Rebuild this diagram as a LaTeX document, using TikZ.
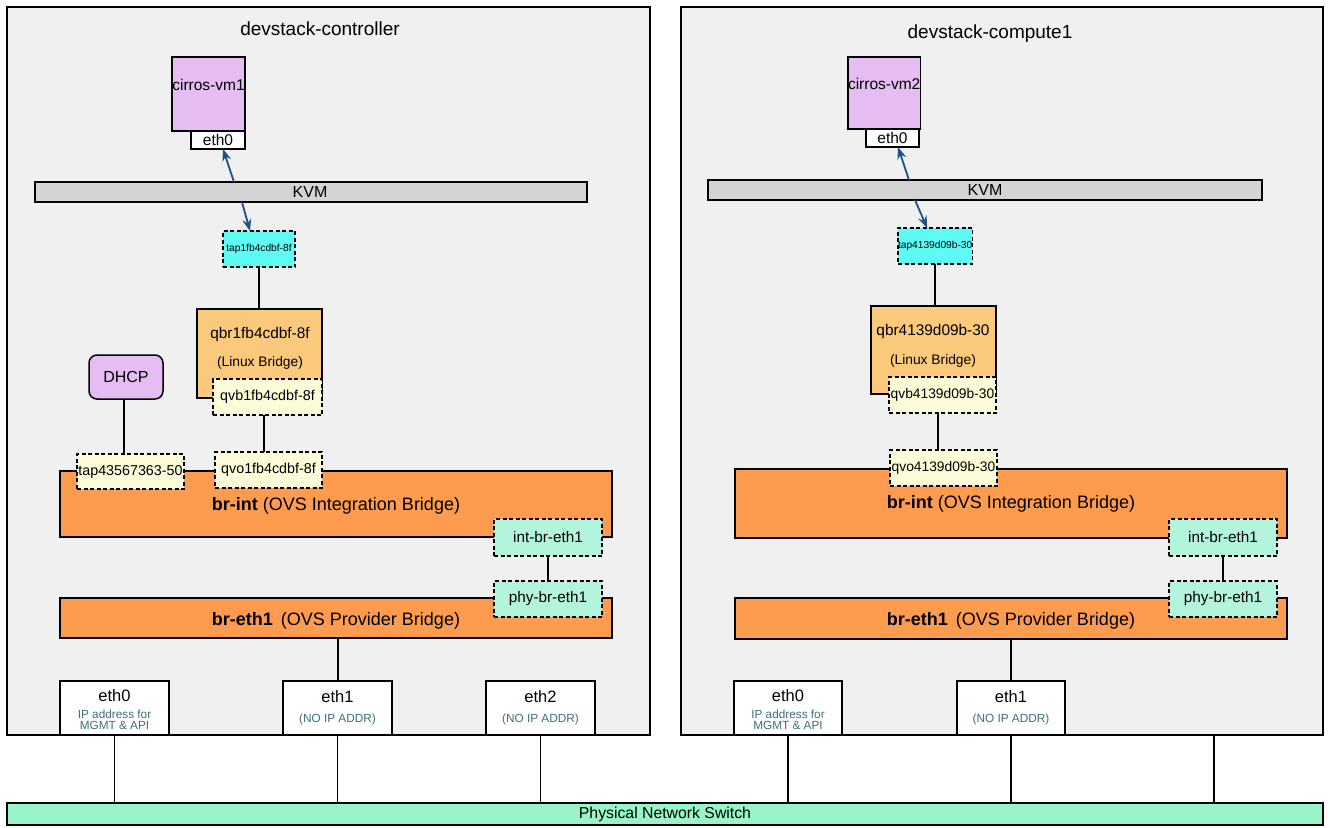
\documentclass[tikz,border=0pt]{standalone}
\usepackage{fontspec}
\setmainfont{Liberation Sans}
\usetikzlibrary{arrows.meta,calc}
\definecolor{hostfill}{HTML}{F0F0F1}
\definecolor{vmfill}{HTML}{E5BDF3}
\definecolor{kvmfill}{HTML}{D4D4D4}
\definecolor{tapfill}{HTML}{5EFAF4}
\definecolor{qbrfill}{HTML}{FBC97B}
\definecolor{vethfill}{HTML}{FCFCD8}
\definecolor{ovsfill}{HTML}{FD9B4E}
\definecolor{patchfill}{HTML}{B2F5DC}
\definecolor{swfill}{HTML}{98F5C9}
\definecolor{arrcol}{HTML}{1F5280}
\definecolor{subcol}{HTML}{3E6E80}
\newcommand{\fs}[1]{\fontsize{#1}{#1}\selectfont}
\tikzset{
  box/.style={draw=black, line width=1.5pt, inner sep=0pt, outer sep=0pt, anchor=north west, align=center},
  hostbox/.style={box, fill=hostfill},
  vmbox/.style={box, fill=vmfill, font=\fs{15.5}},
  ethvm/.style={box, fill=white, font=\fs{15.5}},
  kvmbar/.style={box, fill=kvmfill},
  tapbox/.style={box, fill=tapfill, dash pattern=on 4pt off 2.5pt, font=\fs{10.2}},
  qbrbox/.style={box, fill=qbrfill},
  vethbox/.style={box, fill=vethfill, dash pattern=on 4pt off 2.5pt, font=\fs{14.3}},
  vethboxr/.style={vethbox, font=\fs{13.8}},
  ovsbar/.style={box, fill=ovsfill},
  patchbox/.style={box, fill=patchfill, dash pattern=on 4pt off 2.5pt, font=\fs{15.3}},
  nicbox/.style={box, fill=white},
  dhcpbox/.style={box, fill=vmfill, rounded corners=8pt, font=\fs{16}},
  swbar/.style={box, fill=swfill, font=\fs{15.8}},
  lbl/.style={inner sep=0pt, align=center},
  wire/.style={line width=2pt, black},
  thin/.style={line width=1.5pt, black},
  arr/.style={line width=1.8pt, arrcol, -{Stealth[length=12pt,width=9pt]}},
}
\begin{document}
\begin{tikzpicture}[x=1pt,y=-1pt]
\useasboundingbox (0,0) rectangle (1330,827);
\fill[white] (0,0) rectangle (1330,827);

% hosts
\node[hostbox, minimum width=643, minimum height=728] (host1) at (7,7) {};
\node[hostbox, minimum width=642, minimum height=728] (host2) at (681,7) {};
\node[lbl, font=\fs{19}] (h1t) at (320,29) {devstack-controller};
\node[lbl, font=\fs{19}] (h2t) at (990,34) {devstack-compute1};

% ---------- left host ----------
\node[vmbox, minimum width=73, minimum height=74] (vm1) at (172,57) {cirros-vm1\\[2pt]};
\node[ethvm, minimum width=54, minimum height=18] (vm1eth) at (191,131) {eth0};
\node[kvmbar, minimum width=552, minimum height=20] (kvm1) at (35,182) {};
\node[lbl, font=\fs{16}] (kvm1t) at (310,192) {KVM};
\node[tapbox, minimum width=72, minimum height=36] (tap1) at (223,231) {tap1fb4cdbf-8f};
\node[qbrbox, minimum width=125, minimum height=89] (qbr1) at (197,309) {};
\node[lbl, font=\fs{15.4}] (qbr1t) at (260,335) {qbr1fb4cdbf-8f};
\node[lbl, font=\fs{13.8}] (qbr1s) at (260,363) {(Linux Bridge)};
\node[vethbox, minimum width=109, minimum height=36] (qvb1) at (213,379) {qvb1fb4cdbf-8f};
\node[dhcpbox, minimum width=74, minimum height=44] (dhcp) at (89,355) {DHCP};
\node[ovsbar, minimum width=552, minimum height=66] (brint1) at (60,471) {};
\node[lbl, font=\fs{18}] (brint1t) at (336,506) {\textbf{br-int} (OVS Integration Bridge)};
\node[vethbox, minimum width=107, minimum height=35] (tapd) at (77,454) {tap43567363-50};
\node[vethbox, minimum width=107, minimum height=36] (qvo1) at (215,452) {qvo1fb4cdbf-8f};
\node[ovsbar, minimum width=552, minimum height=40] (breth1) at (60,598) {};
\node[lbl, font=\fs{18}] (breth1t) at (336,621) {\textbf{br-eth1}\, (OVS Provider Bridge)};
\node[patchbox, minimum width=108, minimum height=37] (int1) at (494,519) {int-br-eth1};
\node[patchbox, minimum width=108, minimum height=36] (phy1) at (494,581) {phy-br-eth1};
\node[nicbox, minimum width=109, minimum height=54] (e10) at (60,681) {};
\node[nicbox, minimum width=109, minimum height=54] (e11) at (283,681) {};
\node[nicbox, minimum width=109, minimum height=54] (e12) at (486,681) {};
\node[lbl, font=\fs{16.5}] (e10a) at (114.5,696) {eth0};
\node[lbl, font=\fs{11.8}, text=subcol] (e10b) at (114.5,720) {IP address for\\[-1pt]MGMT \& API};
\node[lbl, font=\fs{16.5}] (e11a) at (337.5,697) {eth1};
\node[lbl, font=\fs{11.8}, text=subcol] (e11b) at (337.5,719) {(NO IP ADDR)};
\node[lbl, font=\fs{16.5}] (e12a) at (540.5,697) {eth2};
\node[lbl, font=\fs{11.8}, text=subcol] (e12b) at (540.5,719) {(NO IP ADDR)};

% ---------- right host ----------
\node[vmbox, minimum width=71, minimum height=72] (vm2) at (848,57) {cirros-vm2\\[2pt]};
\node[ethvm, minimum width=53, minimum height=18] (vm2eth) at (866,129) {eth0};
\node[kvmbar, minimum width=554, minimum height=20] (kvm2) at (708,180) {};
\node[lbl, font=\fs{16}] (kvm2t) at (985,190) {KVM};
\node[tapbox, minimum width=72, minimum height=36] (tap2) at (898,228) {tap4139d09b-30};
\node[qbrbox, minimum width=125, minimum height=88] (qbr2) at (871,306) {};
\node[lbl, font=\fs{15.4}] (qbr2t) at (933,332) {qbr4139d09b-30};
\node[lbl, font=\fs{13.8}] (qbr2s) at (933,361) {(Linux Bridge)};
\node[vethboxr, minimum width=107, minimum height=36] (qvb2) at (889,377) {qvb4139d09b-30};
\node[ovsbar, minimum width=552, minimum height=69] (brint2) at (735,469) {};
\node[lbl, font=\fs{18}] (brint2t) at (1011,504) {\textbf{br-int} (OVS Integration Bridge)};
\node[vethboxr, minimum width=107, minimum height=36] (qvo2) at (890,450) {qvo4139d09b-30};
\node[ovsbar, minimum width=552, minimum height=41] (breth2) at (735,598) {};
\node[lbl, font=\fs{18}] (breth2t) at (1011,621) {\textbf{br-eth1}\, (OVS Provider Bridge)};
\node[patchbox, minimum width=108, minimum height=37] (int2) at (1169,519) {int-br-eth1};
\node[patchbox, minimum width=108, minimum height=36] (phy2) at (1169,581) {phy-br-eth1};
\node[nicbox, minimum width=108, minimum height=54] (e20) at (734,681) {};
\node[nicbox, minimum width=108, minimum height=54] (e21) at (957,681) {};
\node[lbl, font=\fs{16.5}] (e20a) at (788,696) {eth0};
\node[lbl, font=\fs{11.8}, text=subcol] (e20b) at (788,720) {IP address for\\[-1pt]MGMT \& API};
\node[lbl, font=\fs{16.5}] (e21a) at (1011,697) {eth1};
\node[lbl, font=\fs{11.8}, text=subcol] (e21b) at (1011,719) {(NO IP ADDR)};

% switch
\node[swbar, minimum width=1316, minimum height=22] (sw) at (7,803) {Physical Network Switch};
\coordinate (r3) at (1214,735);

% ---------- connectors ----------
\draw[arr] ([xshift=-77pt]kvm1.north) -- ([xshift=5pt]vm1eth.south);
\draw[arr] ([xshift=-69pt]kvm1.south) -- ([xshift=-9pt]tap1.north);
\draw[wire] (tap1.south) -- (tap1.south |- qbr1.north);
\draw[wire] ([xshift=-4pt]qvb1.south) -- ([xshift=-4pt]qvb1.south |- qvo1.north);
\draw[wire] ([xshift=-2pt]dhcp.south) -- ([xshift=-2pt]dhcp.south |- tapd.north);
\draw[wire] (int1.south) -- (int1.south |- phy1.north);
\draw[wire] (e11.north |- breth1.south) -- (e11.north);
\draw[thin] (e10.south) -- (e10.south |- sw.north);
\draw[thin] (e11.south) -- (e11.south |- sw.north);
\draw[thin] (e12.south) -- (e12.south |- sw.north);

\draw[arr] ([xshift=-76pt]kvm2.north) -- ([xshift=5.5pt]vm2eth.south);
\draw[arr] ([xshift=-70pt]kvm2.south) -- ([xshift=-8pt]tap2.north);
\draw[wire] (tap2.south) -- (tap2.south |- qbr2.north);
\draw[wire] ([xshift=-5pt]qvb2.south) -- ([xshift=-5pt]qvb2.south |- qvo2.north);
\draw[wire] (int2.south) -- (int2.south |- phy2.north);
\draw[wire] (e21.north |- breth2.south) -- (e21.north);
\draw[thin] (e20.south) -- (e20.south |- sw.north);
\draw[thin] (e21.south) -- (e21.south |- sw.north);
\draw[thin] (r3) -- (r3 |- sw.north);
\end{tikzpicture}
\end{document}
